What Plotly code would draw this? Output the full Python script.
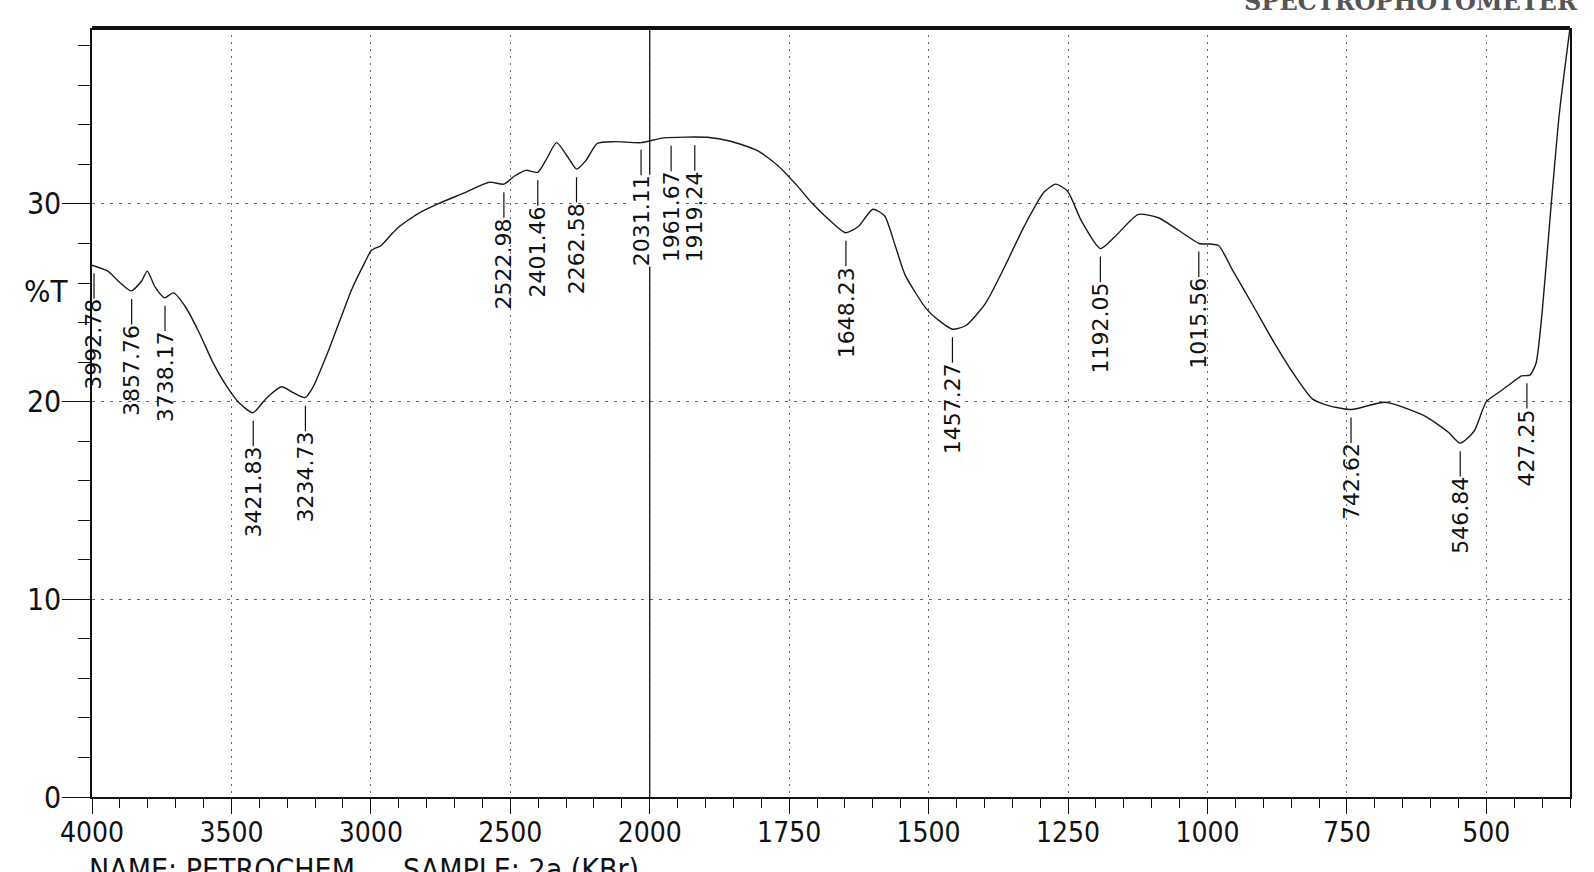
import numpy as np
import plotly.graph_objects as go

# ---------------- data ----------------
wavenumber = [4000, 3943, 3906, 3860, 3822, 3802, 3774, 3740, 3708, 3665, 3616, 3567,
              3518, 3470, 3423, 3373, 3320, 3278, 3236, 3207, 3160, 3114, 3068, 3021,
              2998, 2963, 2927, 2903, 2832, 2760, 2665, 2576, 2523, 2486, 2444, 2402,
              2373, 2334, 2295, 2262, 2229, 2188, 2128, 2031, 1975, 1897, 1855, 1807,
              1771, 1735, 1710, 1680, 1649, 1626, 1600, 1579, 1560, 1542, 1505, 1480,
              1457, 1433, 1398, 1363, 1328, 1293, 1272, 1251, 1226, 1192, 1166, 1124,
              1088, 1052, 1015, 995, 980, 954, 917, 880, 843, 812, 783, 742, 681, 610,
              568, 547, 522, 500, 476, 453, 437, 422, 411, 400, 385, 369, 350]
transmittance = [26.9, 26.6, 26.1, 25.6, 26.1, 26.6, 25.8, 25.25, 25.5, 24.8, 23.5, 22.0,
                 20.8, 19.9, 19.44, 20.2, 20.75, 20.45, 20.2, 20.75, 22.3, 24.0, 25.7, 27.06,
                 27.66, 27.9, 28.45, 28.8, 29.5, 30.0, 30.56, 31.1, 31.0, 31.4, 31.7, 31.6,
                 32.2, 33.1, 32.4, 31.76, 32.2, 33.06, 33.15, 33.1, 33.34, 33.37, 33.17, 32.7,
                 31.96, 30.9, 30.07, 29.24, 28.54, 28.86, 29.73, 29.4, 27.9, 26.4, 24.73, 24.07,
                 23.66, 23.85, 24.97, 26.86, 28.9, 30.6, 31.0, 30.65, 29.14, 27.74, 28.34, 29.47,
                 29.3, 28.67, 28.0, 27.97, 27.9, 26.6, 24.8, 22.96, 21.3, 20.14, 19.8, 19.6, 19.97, 19.27,
                 18.45, 17.9, 18.5, 20.0, 20.5, 20.98, 21.3, 21.34, 21.93, 24.5, 29.55, 34.6, 38.9]

peak_labels = ["3992.78", "3857.76", "3738.17", "3421.83", "3234.73", "2522.98",
               "2401.46", "2262.58", "2031.11", "1961.67", "1919.24", "1648.23",
               "1457.27", "1192.05", "1015.56", "742.62", "546.84", "427.25"]
peak_T = [26.9, 25.6, 25.26, 19.44, 20.2, 31.0, 31.6, 31.76, 33.15, 33.35, 33.37,
          28.54, 23.66, 27.74, 28.0, 19.6, 17.9, 21.34]

x_tick_labels = [4000, 3500, 3000, 2500, 2000, 1750, 1500, 1250, 1000, 750, 500]
y_tick_values = [0, 10, 20, 30]
scale_change = 2000          # abscissa expands 2x below 2000 cm-1
wn_start, wn_end = 4000, 350
T_min, T_max = 0, 38.9

name_text = "NAME: PETROCHEM"
sample_text = "SAMPLE: 2a (KBr)"
header_text = "SPECTROPHOTOMETER"


def u(w):
    """Map wavenumber to the instrument's piecewise-linear chart abscissa."""
    w = np.asarray(w, dtype=float)
    return np.where(w >= scale_change, w, 2 * w - scale_change)


narrow = "Liberation Sans Narrow, Arial Narrow, DejaVu Sans Condensed, Arial, sans-serif"
label_font = dict(family="DejaVu Sans, Verdana, sans-serif", size=22, color="#111")

fig = go.Figure()
fig.add_trace(go.Scatter(
    x=u(wavenumber), y=transmittance, mode="lines",
    line=dict(color="#1a1a1a", width=1.4, shape="spline", smoothing=0.6),
    cliponaxis=True, hoverinfo="skip", showlegend=False))

# scale-change marker at 2000 cm-1
fig.add_vline(x=float(u(scale_change)), line=dict(color="#111", width=1.3), layer="above")

# thick top frame line
fig.add_shape(type="line", xref="paper", yref="paper", x0=0, x1=1, y0=1, y1=1,
              line=dict(color="#111", width=4))

# peak annotations (vertical text with leader line)
gap, leader = 8, 24
for lab, t in zip(peak_labels, peak_T):
    n = len(lab)
    text_len = (0.636 * (n - 1) + 0.318) * label_font["size"]
    near_marker = abs(float(lab) - scale_change) < 50
    fig.add_annotation(
        x=float(u(float(lab))), y=t, xref="x", yref="y",
        text=lab, textangle=-90, font=label_font,
        showarrow=True, arrowhead=0, arrowwidth=1.2, arrowcolor="#111",
        ax=0, ay=gap + leader + text_len / 2 + 2, axref="pixel", ayref="pixel",
        standoff=gap, borderpad=0,
        bgcolor="white" if near_marker else "rgba(0,0,0,0)")

# %T label
fig.add_annotation(x=-0.031, y=25.6, xref="paper", yref="y", text="%T", showarrow=False,
                   xanchor="center", yanchor="middle",
                   font=dict(family=narrow, size=31, color="#111"))

# footer / header texts (partly cut off by the page, as on the scan)
fig.add_annotation(x=-0.0034, y=-0.069, xref="paper", yref="paper", text=name_text,
                   showarrow=False, xanchor="left", yanchor="top",
                   font=dict(family=narrow, size=30, color="#111"))
fig.add_annotation(x=0.209, y=-0.069, xref="paper", yref="paper", text=sample_text,
                   showarrow=False, xanchor="left", yanchor="top",
                   font=dict(family=narrow, size=30, color="#111"))
fig.add_annotation(x=1.007, y=1.013, xref="paper", yref="paper", text=header_text,
                   showarrow=False, xanchor="right", yanchor="bottom",
                   font=dict(family="DejaVu Serif, serif", size=24, color="#555",
                             weight="bold"))

fig.update_layout(
    width=1594, height=872,
    margin=dict(l=92, r=24, t=28, b=75),
    paper_bgcolor="white", plot_bgcolor="white",
    showlegend=False,
    xaxis=dict(
        range=[float(u(wn_start)), float(u(wn_end))],
        tickvals=u(x_tick_labels).tolist(), ticktext=[str(v) for v in x_tick_labels],
        ticks="outside", ticklen=15, tickwidth=1.3, tickcolor="#111",
        tickfont=dict(family=narrow, size=28, color="#111"),
        ticklabelstandoff=-5,
        showline=True, linecolor="#111", linewidth=1.5, mirror=False,
        showgrid=True, gridcolor="#666", gridwidth=1, griddash="2px,5px",
        zeroline=False,
        minor=dict(dtick=100, tick0=0, ticks="outside", ticklen=9, tickwidth=1.2,
                   tickcolor="#111", showgrid=False),
    ),
    yaxis=dict(
        range=[T_min, T_max],
        tickvals=y_tick_values, ticktext=[str(v) for v in y_tick_values],
        ticks="outside", ticklen=28, tickwidth=1.3, tickcolor="#111",
        tickfont=dict(family=narrow, size=30, color="#111"),
        ticklabelstandoff=-5,
        showline=True, linecolor="#111", linewidth=1.5, mirror=True,
        showgrid=True, gridcolor="#666", gridwidth=1, griddash="3px,6px",
        zeroline=False,
        minor=dict(dtick=2, tick0=0, ticks="outside", ticklen=12, tickwidth=1.2,
                   tickcolor="#111", showgrid=False),
    ),
)

fig.write_html("out.html")
